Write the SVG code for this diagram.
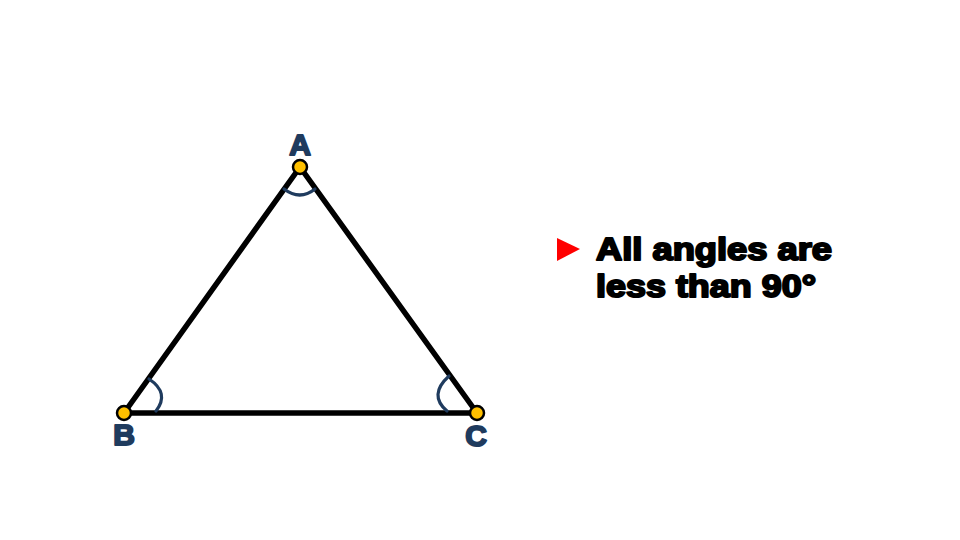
<svg xmlns="http://www.w3.org/2000/svg" width="960" height="540" viewBox="0 0 960 540">
<style>
.side{stroke:#000;stroke-width:5.5;fill:none;stroke-linejoin:round;stroke-linecap:round}
.arc{stroke:#1F3B5E;stroke-width:3.2;fill:none;stroke-linecap:round}
.pt{fill:#FFC000;stroke:#000;stroke-width:2.5}
.lbl{font-family:"Liberation Sans",Arial,sans-serif;font-weight:bold;font-size:30px;fill:#1F3B5E;stroke:#1F3B5E;stroke-width:2;stroke-linejoin:round;text-anchor:middle}
.txt{font-family:"Liberation Sans",Arial,sans-serif;font-weight:bold;font-size:31px;fill:#000;stroke:#000;stroke-width:2;stroke-linejoin:round}
</style>
<rect width="960" height="540" fill="#fff"/>
<g id="connectors">
<path class="side" d="M300 167 L124 413 L477 413 Z"/>
<path class="arc" d="M284 189 Q300 201 315 189"/>
<path class="arc" d="M149 379 Q170 393 156 411"/>
<path class="arc" d="M449 376 Q428 395 447 411"/>
</g>
<g id="A"><circle class="pt" cx="300" cy="167" r="7"/><text class="lbl" x="300" y="155">A</text></g>
<g id="B"><circle class="pt" cx="124" cy="413" r="7"/><text class="lbl" x="124" y="445">B</text></g>
<g id="C"><circle class="pt" cx="477" cy="413" r="7"/><text class="lbl" x="476" y="446">C</text></g>
<g id="note">
<polygon points="557,238 580,249 557,261" fill="#FF0000"/>
<text class="txt" x="596" y="260" textLength="236" lengthAdjust="spacingAndGlyphs">All angles are</text>
<text class="txt" x="596" y="297" textLength="220" lengthAdjust="spacingAndGlyphs">less than 90°</text>
</g>
</svg>
